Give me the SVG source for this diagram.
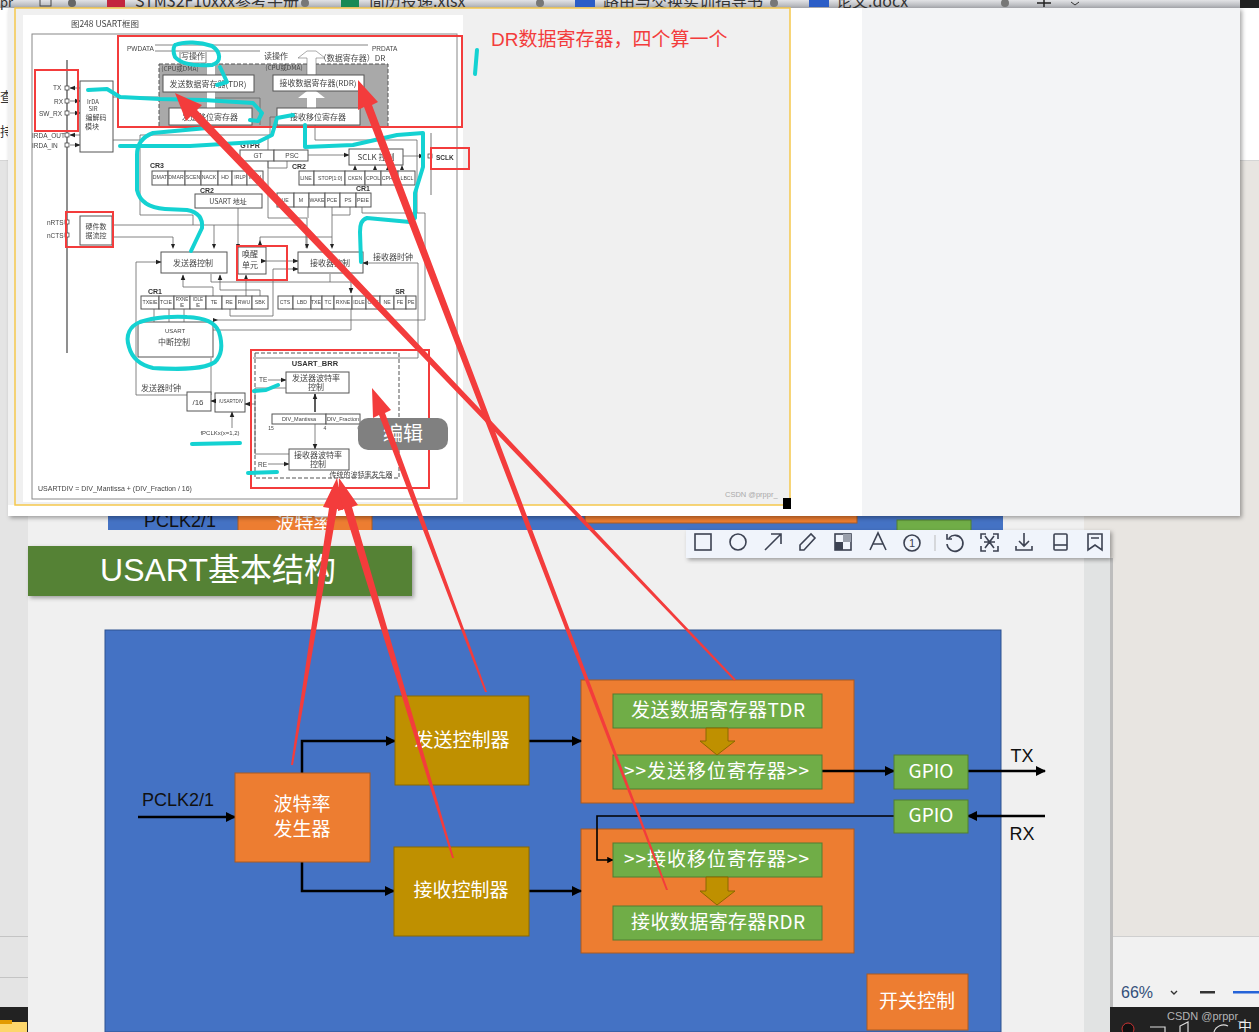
<svg xmlns="http://www.w3.org/2000/svg" width="1259" height="1032" viewBox="0 0 1259 1032">
<style>
text{font-family:"Liberation Sans","Noto Sans CJK SC",sans-serif}
.i{font-size:6.5px;fill:#444;text-anchor:middle}
.s{font-size:5.2px}
.il{font-size:6.5px;fill:#444}
.ib{font-size:7px;fill:#333;font-weight:bold;text-anchor:middle}
.ic{font-family:"Noto Sans CJK SC",sans-serif;font-size:8px;fill:#444;text-anchor:middle}
.b{fill:#fff;stroke:#555;stroke-width:1}
.w{fill:none;stroke:#666;stroke-width:.8}
.rr{fill:none;stroke:#f33c3c;stroke-width:2}
.cy{fill:none;stroke:#14d2d2;stroke-width:4;stroke-linecap:round;stroke-linejoin:round}
.ra{fill:#f33c3c}
.or{fill:#ED7D31;stroke:#a85a22;stroke-width:1}
.go{fill:#BF9000;stroke:#8a6800;stroke-width:1}
.gr{fill:#70AD47;stroke:#507e32;stroke-width:1}
.m{font-family:"Noto Sans CJK SC","Liberation Sans",sans-serif;font-size:19px;fill:#fff;text-anchor:middle}
.sp{letter-spacing:1px}
.k{font-size:18px;fill:#111;font-family:"Liberation Sans",sans-serif;text-anchor:middle}
.c{fill:none;stroke:#000;stroke-width:2.5}
.tool{fill:none;stroke:#3c4252;stroke-width:1.6}
.tab{font-family:"Noto Sans CJK SC","Liberation Sans",sans-serif;font-size:16px;fill:#333}
</style>
<defs>
<marker id="ah" viewBox="0 0 10 10" refX="9" refY="5" markerWidth="4" markerHeight="4" orient="auto"><path d="M0 0L10 5L0 10z" fill="#000"/></marker>
<marker id="sh" viewBox="0 0 10 10" refX="9" refY="5" markerWidth="6" markerHeight="6" orient="auto" markerUnits="userSpaceOnUse"><path d="M0 1L10 5L0 9z" fill="#222"/></marker>
<filter id="soft" x="-2%" y="-2%" width="104%" height="104%"><feGaussianBlur stdDeviation="0.35"/></filter>
<filter id="shadow" x="-3%" y="-10%" width="106%" height="130%"><feDropShadow dx="2" dy="2" stdDeviation="2" flood-color="#000" flood-opacity=".35"/></filter>
<linearGradient id="tabbar" x1="0" y1="0" x2="0" y2="1"><stop offset="0" stop-color="#e2e3e6"/><stop offset="1" stop-color="#a9abb0"/></linearGradient>
</defs>

<g id="desktop">
<rect width="1259" height="1032" fill="#e8e5e1"/>
<rect x="0" y="0" width="1259" height="8" fill="url(#tabbar)"/>
<rect x="0" y="8" width="8" height="152" fill="#fff"/>
<rect x="1240" y="8" width="19" height="152" fill="#fff"/>
<rect x="0" y="160" width="28" height="847" fill="#e4e4e4"/>
<rect x="1240" y="160" width="19" height="1" fill="#d5d5d5"/>
<rect x="0" y="160" width="8" height="1" fill="#d5d5d5"/>
<rect x="0" y="936" width="28" height="1" fill="#c4c4c4"/>
<rect x="0" y="977" width="28" height="1" fill="#c4c4c4"/>
<rect x="1084" y="558" width="26" height="474" fill="#e1e3e3"/>
<rect x="1110" y="558" width="3" height="474" fill="#bdbdbd"/>
<rect x="1113" y="936" width="146" height="1" fill="#cfcfcf"/>
<rect x="1113" y="937" width="146" height="70" fill="#f1f1f1"/>
<text x="0" y="101" font-size="13" fill="#333" font-family="Noto Sans CJK SC,sans-serif">查</text>
<text x="0" y="136" font-size="13" fill="#333" font-family="Noto Sans CJK SC,sans-serif">持</text>
<text class="tab" x="0" y="7" style="font-size:13px">pr</text>
<rect x="40" y="-5" width="11" height="11" fill="none" stroke="#444"/>
<circle cx="72" cy="3" r="4" fill="#666"/><circle cx="305" cy="3" r="4" fill="#777"/><circle cx="540" cy="3" r="4" fill="#777"/><circle cx="774" cy="3" r="4" fill="#777"/><circle cx="1005" cy="3" r="4" fill="#777"/>
<rect x="107" y="-6" width="18" height="13" fill="#c3263f"/>
<text class="tab" x="135" y="7">STM32F10xxx参考手册</text>
<rect x="341" y="-6" width="18" height="13" fill="#178a55"/>
<text class="tab" x="369" y="7">简历投递.xlsx</text>
<rect x="575" y="-6" width="20" height="13" fill="#2b5dc7"/>
<text class="tab" x="603" y="7">路由与交换实训指导书</text>
<rect x="809" y="-6" width="20" height="13" fill="#2b5dc7"/>
<text class="tab" x="836" y="7">论文.docx</text>
<path d="M1044 -2v9M1037 3h14" stroke="#222" stroke-width="1.5"/>
<path d="M1071 2l4 3l4-3" fill="none" stroke="#333"/>
<rect x="1240" y="-4" width="19" height="12" fill="#222"/>
</g>

<g id="slide-behind">
<rect x="28" y="510" width="1056" height="22" fill="#f0f0f0"/>
<rect x="108" y="510" width="895" height="22" fill="#4472C4"/>
<rect x="238" y="510" width="134" height="22" class="or"/>
<rect x="585" y="510" width="272" height="13" class="or"/>
<rect x="897" y="520" width="74" height="12" class="gr"/>
<text class="k" x="180" y="527">PCLK2/1</text>
<text class="m" x="304" y="531">波特率</text>
</g>

<g id="slide-bg">
<rect x="28" y="530" width="1056" height="502" fill="#f0f0f0"/>
</g>

<g id="title">
<rect x="28" y="546" width="384" height="50" fill="#548235" filter="url(#shadow)"/>
<text x="218" y="581" font-size="32" fill="#fff" text-anchor="middle" font-family="Liberation Sans,Noto Sans CJK SC,sans-serif">USART基本结构</text>
</g>

<rect id="panel" x="105" y="630" width="896" height="402" fill="#4472C4" stroke="#2f528f"/>

<g id="tx-group"><rect class="or" x="581" y="680" width="273" height="123"/></g>
<g id="rx-group"><rect class="or" x="581" y="829" width="273" height="124"/></g>

<g id="connectors">
<path class="c" d="M138 817H235" marker-end="url(#ah)"/>
<path class="c" d="M302 773V741H395" marker-end="url(#ah)"/>
<path class="c" d="M302 862V891H394" marker-end="url(#ah)"/>
<path class="c" d="M529 741H581" marker-end="url(#ah)"/>
<path class="c" d="M529 891H581" marker-end="url(#ah)"/>
<path class="c" d="M822 771H894" marker-end="url(#ah)"/>
<path class="c" d="M968 771H1045" marker-end="url(#ah)"/>
<path class="c" d="M1045 816H968" marker-end="url(#ah)"/>
<path class="c" style="stroke-width:1.6" d="M894 816H597V860H613" marker-end="url(#ah)"/>
</g>

<g id="pclk-label"><text class="k" x="178" y="806">PCLK2/1</text></g>
<g id="baud"><rect class="or" x="235" y="773" width="135" height="89"/><text class="m" x="302" y="811">波特率</text><text class="m" x="302" y="836">发生器</text></g>
<g id="tx-ctrl"><rect class="go" x="395" y="696" width="134" height="89"/><text class="m" x="462" y="747">发送控制器</text></g>
<g id="rx-ctrl"><rect class="go" x="394" y="847" width="135" height="89"/><text class="m" x="461" y="897">接收控制器</text></g>
<g id="tdr"><rect class="gr" x="613" y="694" width="209" height="34"/><text class="m" x="718" y="717" textLength="174">发送数据寄存器TDR</text></g>
<g id="tsr"><rect class="gr" x="613" y="755" width="209" height="34"/><text class="m sp" x="717" y="778">&gt;&gt;发送移位寄存器&gt;&gt;</text></g>
<g id="rsr"><rect class="gr" x="613" y="843" width="209" height="34"/><text class="m sp" x="717" y="866">&gt;&gt;接收移位寄存器&gt;&gt;</text></g>
<g id="rdr"><rect class="gr" x="613" y="906" width="209" height="34"/><text class="m" x="718" y="929" textLength="174">接收数据寄存器RDR</text></g>
<path class="go" d="M706 728H728V741H735L717 755L700 741H706Z"/>
<path class="go" d="M706 877H728V891H735L717 905L700 891H706Z"/>
<g id="gpio1"><rect class="gr" x="894" y="755" width="74" height="34"/><text class="m" x="931" y="778">GPIO</text></g>
<g id="gpio2"><rect class="gr" x="894" y="800" width="74" height="33"/><text class="m" x="931" y="822">GPIO</text></g>
<text class="k" x="1022" y="762">TX</text>
<text class="k" x="1022" y="840">RX</text>
<g id="switch"><rect class="or" x="867" y="974" width="101" height="56"/><text class="m" x="917" y="1008">开关控制</text></g>

<g id="window">
<rect x="8" y="8" width="1232" height="508" fill="#f3f4f6" filter="url(#shadow)"/>
<rect x="8" y="8" width="854" height="508" fill="#fff"/>
<rect x="8" y="8" width="782" height="497" fill="#f0f0f0"/>
<path d="M15 505H790V8H15Z" fill="none" stroke="#f5c84c" stroke-width="1.5"/>
<rect x="23" y="15" width="440" height="487" fill="#fff"/>
</g>

<g id="usart-figure" filter="url(#soft)">
<rect x="32" y="34" width="425" height="465" fill="none" stroke="#888" stroke-width="1"/>
<text class="ic" x="105" y="27" style="font-size:8.5px">图248    USART框图</text>

<rect x="159" y="64" width="229" height="63" fill="#a9a9a9" stroke="#555" stroke-dasharray="4 2"/>
<path class="w" d="M155 45H368M155 51H260M180 52V63H206V52"/>
<text class="il" x="127" y="51">PWDATA</text>
<text class="il" x="372" y="51">PRDATA</text>
<text class="ic" x="193" y="59">写操作</text>
<text class="ic" x="276" y="59">读操作</text>
<text class="ic" x="352" y="61">（数据寄存器）DR</text>
<text class="ic" x="180" y="71" style="font-size:6.5px">(CPU或DMA)</text>
<text class="ic" x="284" y="70" style="font-size:6.5px">(CPU或DMA)</text>
<path d="M307 51L298 58H307V75H316V58H325L316 51Z" fill="#fff" stroke="#555" stroke-width=".5"/>
<path d="M307 91L298 98H307V108H316V98H325L316 91Z" fill="#fff"/>
<path d="M207 64H215V75H207ZM207 92H215V108H207Z" fill="#fff"/>
<path class="w" d="M215 98H260V125M270 135V117H277"/>
<rect class="b" x="163" y="75" width="91" height="17"/><text class="ic" x="208" y="87">发送数据寄存器(TDR)</text>
<rect class="b" x="273" y="75" width="91" height="16"/><text class="ic" x="318" y="86">接收数据寄存器(RDR)</text>
<rect class="b" x="169" y="108" width="83" height="17"/><text class="ic" x="210" y="120">发送移位寄存器</text>
<rect class="b" x="277" y="108" width="83" height="17"/><text class="ic" x="318" y="120">接收移位寄存器</text>

<path d="M67 60V353" stroke="#444" stroke-width="1.2" fill="none"/>
<path d="M431 133V195" stroke="#777" stroke-width="1" fill="none"/>
<text class="il" x="53" y="90">TX</text><text class="il" x="54" y="104">RX</text><text class="il" x="39" y="116">SW_RX</text>
<text class="il" x="32" y="138">IRDA_OUT</text><text class="il" x="32" y="148">IRDA_IN</text>
<text class="il" x="47" y="225">nRTS</text><text class="il" x="47" y="238">nCTS</text>
<g fill="#fff" stroke="#333" stroke-width=".7"><rect x="65" y="86" width="4" height="4"/><rect x="65" y="99" width="4" height="4"/><rect x="65" y="111" width="4" height="4"/><rect x="65" y="133" width="4" height="4"/><rect x="65" y="143" width="4" height="4"/><rect x="65" y="220" width="4" height="4"/><rect x="65" y="233" width="4" height="4"/></g>
<path d="M80 88H70" class="w" marker-end="url(#sh)"/><path d="M70 101H80" class="w" marker-end="url(#sh)"/><path d="M70 113H80" class="w" marker-end="url(#sh)"/><path d="M80 135H70" class="w" marker-end="url(#sh)"/><path d="M70 145H80" class="w" marker-end="url(#sh)"/>
<rect class="b" x="80" y="81" width="33" height="71"/>
<text class="ic" x="93" y="104" style="font-size:6px">IrDA</text><text class="ic" x="93" y="111" style="font-size:6px">SIR</text><text class="ic" x="96" y="120" style="font-size:7px">编解码</text><text class="ic" x="92" y="129" style="font-size:7px">模块</text>

<path class="w" d="M113 97H160M113 140H140M140 135H270M140 135V215H193V225M315 125V140H417V213M268 135V218H307V248M268 160V168H287V160M113 225H306V248M113 237H173V247M214 225V247M238 208V247M260 243V237H332M332 203V247M350 203V215H332M308 203V218M362 205V213H425V320H213M418 263V358H253M136 262V395H187M211 395V358"/>
<g fill="#222"><path d="M171 244H175L173 249ZM212 244H216L214 249ZM236 244H240L238 249ZM258 245H262L260 240ZM305 244H309L307 249ZM330 244H334L332 249ZM213 318L218 320L213 322Z"/></g>
<text class="ib" x="250" y="148">GTPR</text>
<rect x="240" y="150" width="34" height="11" class="b"/><rect x="274" y="150" width="34" height="11" class="b"/>
<text class="i" x="258" y="158">GT</text><text class="i" x="292" y="158">PSC</text>
<path class="w" d="M308 155H349" marker-end="url(#sh)"/>
<rect class="b" x="349" y="149" width="54" height="16"/><text class="ic" x="376" y="160">SCLK 控制</text>
<path class="w" d="M403 156H424" marker-end="url(#sh)"/>
<rect x="428" y="154" width="4" height="4" fill="#fff" stroke="#333" stroke-width=".7"/>
<text x="436" y="160" font-size="6.5" font-weight="bold" fill="#333">SCLK</text>
<g fill="#222"><path d="M353 170L355 165L357 170ZM373 170L375 165L377 170ZM386 170L388 165L390 170ZM400 170L402 165L404 170Z"/></g>

<text class="ib" x="157" y="168">CR3</text>
<g class="b"><rect x="152" y="171" width="16" height="14"/><rect x="168" y="171" width="17" height="14"/><rect x="185" y="171" width="16" height="14"/><rect x="201" y="171" width="17" height="14"/><rect x="218" y="171" width="14" height="14"/><rect x="232" y="171" width="15" height="14"/><rect x="247" y="171" width="16" height="14"/></g>
<g><text class="i s" x="160" y="179">DMAT</text><text class="i s" x="176" y="179">DMAR</text><text class="i s" x="193" y="179">SCEN</text><text class="i s" x="209" y="179">NACK</text><text class="i s" x="225" y="179">HD</text><text class="i s" x="240" y="179">IRLP</text><text class="i s" x="255" y="179">IREN</text></g>
<text class="ib" x="299" y="169">CR2</text>
<g class="b"><rect x="299" y="171" width="15" height="14"/><rect x="314" y="171" width="31" height="14"/><rect x="345" y="171" width="20" height="14"/><rect x="365" y="171" width="16" height="14"/><rect x="381" y="171" width="17" height="14"/><rect x="398" y="171" width="17" height="14"/></g>
<g><text class="i s" x="306" y="180">LINE</text><text class="i s" x="330" y="180">STOP[1:0]</text><text class="i s" x="355" y="180">CKEN</text><text class="i s" x="373" y="180">CPOL</text><text class="i s" x="389" y="180">CPHA</text><text class="i s" x="407" y="180">LBCL</text></g>
<text class="ib" x="207" y="193">CR2</text>
<rect class="b" x="195" y="194" width="67" height="14"/><text class="ic" x="228" y="204" style="font-size:7px">USART 地址</text>
<text class="ib" x="363" y="191">CR1</text>
<g class="b"><rect x="277" y="193" width="17" height="14"/><rect x="294" y="193" width="15" height="14"/><rect x="309" y="193" width="16" height="14"/><rect x="325" y="193" width="15" height="14"/><rect x="340" y="193" width="16" height="14"/><rect x="356" y="193" width="15" height="14"/></g>
<g><text class="i s" x="285" y="202">UE</text><text class="i s" x="301" y="202">M</text><text class="i s" x="317" y="202">WAKE</text><text class="i s" x="332" y="202">PCE</text><text class="i s" x="348" y="202">PS</text><text class="i s" x="363" y="202">PEIE</text></g>

<rect class="b" x="80" y="216" width="32" height="29"/><text class="ic" x="96" y="229" style="font-size:7px">硬件数</text><text class="ic" x="96" y="238" style="font-size:7px">据流控</text>

<path class="w" d="M211 274V282H351V293M330 274V282M351 309V330H213M183 276V287H213V296M220 276V290H260V296M246 276V296M230 309V316H273V269H298M154 309V322M169 309V322M184 309V322"/>
<path class="w" d="M183 280V275" marker-end="url(#sh)"/><path class="w" d="M220 280V275" marker-end="url(#sh)"/><path class="w" d="M246 280V275" marker-end="url(#sh)"/><path class="w" d="M351 288V293" marker-end="url(#sh)"/><path class="w" d="M292 269H298" marker-end="url(#sh)"/>
<rect class="b" x="161" y="252" width="66" height="21"/><text class="ic" x="193" y="266">发送器控制</text>
<rect class="b" x="238" y="247" width="28" height="27"/><text class="ic" x="250" y="257">唤醒</text><text class="ic" x="250" y="268">单元</text>
<path class="w" d="M266 261H298" marker-start="url(#sh)" marker-end="url(#sh)"/>
<rect class="b" x="298" y="252" width="65" height="21"/><text class="ic" x="330" y="266">接收器控制</text>
<text class="ic" x="393" y="260">接收器时钟</text>
<path class="w" d="M418 263H363" marker-end="url(#sh)"/>
<path class="w" d="M136 262H161" marker-end="url(#sh)"/>

<text class="ib" x="155" y="294">CR1</text><text class="ib" x="400" y="294">SR</text>
<g class="b"><rect x="141" y="296" width="18" height="13"/><rect x="159" y="296" width="15" height="13"/><rect x="174" y="296" width="16" height="13"/><rect x="190" y="296" width="16" height="13"/><rect x="206" y="296" width="16" height="13"/><rect x="222" y="296" width="14" height="13"/><rect x="236" y="296" width="16" height="13"/><rect x="252" y="296" width="16" height="13"/></g>
<g><text class="i s" x="150" y="304">TXEIE</text><text class="i s" x="166" y="304">TCIE</text><text class="i s" style="font-size:4.5px" x="182" y="301">RXNE</text><text class="i s" style="font-size:4.5px" x="182" y="307">IE</text><text class="i s" style="font-size:4.5px" x="198" y="301">IDLE</text><text class="i s" style="font-size:4.5px" x="198" y="307">IE</text><text class="i s" x="214" y="304">TE</text><text class="i s" x="229" y="304">RE</text><text class="i s" x="244" y="304">RWU</text><text class="i s" x="260" y="304">SBK</text></g>
<g class="b"><rect x="278" y="296" width="15" height="13"/><rect x="293" y="296" width="18" height="13"/><rect x="311" y="296" width="11" height="13"/><rect x="322" y="296" width="12" height="13"/><rect x="334" y="296" width="18" height="13"/><rect x="352" y="296" width="14" height="13"/><rect x="366" y="296" width="14" height="13"/><rect x="380" y="296" width="14" height="13"/><rect x="394" y="296" width="12" height="13"/><rect x="406" y="296" width="10" height="13"/></g>
<g><text class="i s" x="285" y="304">CTS</text><text class="i s" x="302" y="304">LBD</text><text class="i s" x="316" y="304">TXE</text><text class="i s" x="328" y="304">TC</text><text class="i s" x="343" y="304">RXNE</text><text class="i s" x="359" y="304">IDLE</text><text class="i s" x="373" y="304">ORE</text><text class="i s" x="387" y="304">NE</text><text class="i s" x="400" y="304">FE</text><text class="i s" x="411" y="304">PE</text></g>

<rect class="b" x="138" y="322" width="75" height="35"/><text class="i" x="175" y="333" style="font-size:6px">USART</text><text class="ic" x="174" y="345">中断控制</text>
<text class="ic" x="161" y="391">发送器时钟</text>
<rect class="b" x="187" y="392" width="24" height="19"/><text class="i" x="198" y="405" style="font-size:8px">/16</text>
<rect class="b" x="215" y="393" width="30" height="19"/><text class="i" style="font-size:4.5px" x="231" y="403">/USARTDIV</text>
<path class="w" d="M215 401H211" marker-end="url(#sh)"/><path class="w" d="M255 404H245" marker-end="url(#sh)"/>
<path class="w" d="M232 428V412" marker-end="url(#sh)"/>
<text class="i" x="220" y="435" style="font-size:6px">fPCLKx(x=1,2)</text>
<rect x="255" y="353" width="144" height="125" fill="none" stroke="#555" stroke-dasharray="4 2"/>
<text class="ib" x="315" y="366" style="font-size:7.5px">USART_BRR</text>
<text class="il" x="259" y="382">TE</text><path class="w" d="M268 380H286" marker-end="url(#sh)"/>
<rect class="b" x="286" y="372" width="63" height="21"/><text class="ic" x="316" y="381">发送器波特率</text><text class="ic" x="316" y="390">控制</text>
<path d="M315 412V394" stroke="#333" stroke-width="1.6" marker-end="url(#sh)"/>
<rect class="b" x="272" y="414" width="54" height="10"/><rect class="b" x="326" y="414" width="34" height="10"/>
<text class="i" x="299" y="421" style="font-size:5.5px">DIV_Mantissa</text><text class="i" x="343" y="421" style="font-size:5.5px">DIV_Fraction</text>
<text class="i" x="271" y="430" style="font-size:5px">15</text><text class="i" x="325" y="430" style="font-size:5px">4</text><text class="i" x="359" y="430" style="font-size:5px">0</text>
<path class="w" d="M315 424V449" marker-end="url(#sh)"/>
<path class="w" d="M255 404V388H286M255 404V454H289"/>
<text class="il" x="258" y="467">RE</text><path class="w" d="M268 464H289" marker-end="url(#sh)"/>
<rect class="b" x="289" y="449" width="60" height="21"/><text class="ic" x="318" y="458">接收器波特率</text><text class="ic" x="318" y="467">控制</text>
<text class="ic" x="361" y="477" style="font-size:7px">传统的波特率发生器</text>
<text x="38" y="491" font-size="7" fill="#444">USARTDIV = DIV_Mantissa + (DIV_Fraction / 16)</text>
</g>

<g id="annot-boxes">
<rect class="rr" x="118" y="36" width="344" height="91"/>
<rect class="rr" x="35" y="70" width="43" height="61"/>
<rect class="rr" x="431" y="148" width="38" height="21"/>
<rect class="rr" x="66" y="212" width="47" height="35"/>
<rect class="rr" x="237" y="246" width="50" height="34"/>
<rect class="rr" x="251" y="350" width="178" height="138"/>
</g>

<g id="annot-cyan">
<path class="cy" d="M175 45C185 41 200 42 212 46C221 52 222 62 212 65C198 66 182 65 175 57C173 52 173 48 175 45"/>
<path class="cy" d="M220 67L227 82L217 85"/>
<path class="cy" d="M88 90L107 89L120 97L160 99L203 100L253 103L262 113L258 121L250 120"/>
<path class="cy" d="M120 146L190 146L258 142L272 135L277 118L293 115"/>
<path class="cy" d="M207 128L153 133C142 137 137 145 137 155L137 190C140 203 150 208 165 209L187 210C198 212 203 218 202 228L191 251"/>
<path class="cy" d="M305 125L305 147L353 145L397 135L423 133L423 167L415 193L415 218L410 222L367 218C361 220 360 225 360 232L361 262"/>
<path class="cy" d="M140 322C155 317 175 316 187 317C205 318 215 322 219 332C223 345 222 355 215 362C205 369 185 370 153 368C140 365 132 358 129 347C125 335 130 326 140 322Z"/>
<path class="cy" d="M192 444L240 443"/>
<path class="cy" d="M254 391L266 390L278 385"/>
<path class="cy" d="M248 473L277 472"/>
<path class="cy" d="M477 50L475 74"/>
</g>

<g id="edit-pill">
<rect x="358" y="418" width="90" height="32" rx="10" fill="#808080"/>
<text x="403" y="441" font-size="20" fill="#fff" text-anchor="middle" font-family="Noto Sans CJK SC,sans-serif">编辑</text>
</g>

<g id="annot-arrows">
<polygon class="ra" points="175,93 202,105 197,110 735.7,679.3 734.3,680.7 191,116 186,121"/>
<polygon class="ra" points="358,80 378,102 372,105 668,890 666,890 364,107 358,110"/>
<polygon class="ra" points="372,388 391,410 385,413 487,692 485,692 379,415 373,418"/>
<polygon class="ra" points="339,478 358,505 352,507 454,858 452,858 344,509 338,511"/>
<polygon class="ra" points="337,478 343,510 337,509 293,765 291,765 329,508 323,507"/>
</g>

<g id="annot-note">
<text x="491" y="46" font-size="19" fill="#f33c3c" font-family="Liberation Sans,Noto Sans CJK SC,sans-serif">DR数据寄存器，四个算一个</text>
<text x="725" y="497" font-size="7.5" fill="#aaa">CSDN @prppr_</text>
<rect x="783" y="498" width="8" height="11" fill="#000"/>
</g>

<g id="toolbar">
<rect x="686" y="530" width="424" height="28" fill="#f0f4fb" filter="url(#shadow)"/>
<rect class="tool" x="695" y="534" width="16" height="16"/>
<circle class="tool" cx="738" cy="542" r="8"/>
<path class="tool" d="M765 550L781 534M771 534H781V544"/>
<path class="tool" d="M800 550V545L811 534L815 538L804 550Z"/>
<rect class="tool" x="835" y="534" width="16" height="16"/><rect x="843" y="534" width="8" height="8" fill="#9aa0ac"/><rect x="835" y="542" width="8" height="8" fill="#3c4252"/>
<path class="tool" d="M870 550L878 533L886 550M873 544H883"/>
<circle class="tool" cx="912" cy="543" r="8"/><text x="912" y="547" font-size="11" text-anchor="middle" fill="#3c4252" font-family="Liberation Serif,serif">1</text>
<path d="M935 535V551" stroke="#bbb"/>
<path class="tool" d="M949 538A8 8 0 1 1 947 544M947 534V539H952"/>
<path class="tool" d="M981 539V534H986M993 534H998V539M998 546V551H993M986 551H981V546M984 542H995M985 536L994 548M994 536L985 548"/>
<path class="tool" d="M1024 533V546M1019 541L1024 546L1029 541M1016 546V550H1032V546"/>
<rect class="tool" x="1054" y="534" width="13" height="16" rx="1"/><path class="tool" d="M1054 545H1067"/>
<path class="tool" d="M1088 534H1102V550L1095 545L1088 550ZM1091 538H1099"/>
</g>

<g id="status">
<text x="1121" y="998" font-size="16" fill="#34507a">66%</text>
<path d="M1171 991L1174 994L1177 991" fill="none" stroke="#333" stroke-width="1.4"/>
<rect x="1200" y="991" width="15" height="2.5" fill="#333"/>
<rect x="1233" y="991" width="26" height="2.5" fill="#2563d8"/>
<rect x="1110" y="1007" width="149" height="25" fill="#222"/>
<text x="1167" y="1020" font-size="11" fill="#b5b5b5">CSDN @prppr_</text>
<circle cx="1128" cy="1029" r="6" fill="#111" stroke="#c33"/>
<text x="1245" y="1031" font-size="14" fill="#eee" text-anchor="middle" font-family="Noto Sans CJK SC,sans-serif">中</text>
<path d="M1150 1027H1165V1032M1180 1032V1026L1188 1022V1032M1214 1032A10 10 0 0 1 1228 1026" fill="none" stroke="#ddd" stroke-width="1.2"/>
<rect x="0" y="1007" width="28" height="25" fill="#222"/>
<path d="M0 1020H12V1022H27V1032H0Z" fill="#fdd66b"/>
<rect x="0" y="1020" width="12" height="4" fill="#e29a00"/>
</g>
</svg>
